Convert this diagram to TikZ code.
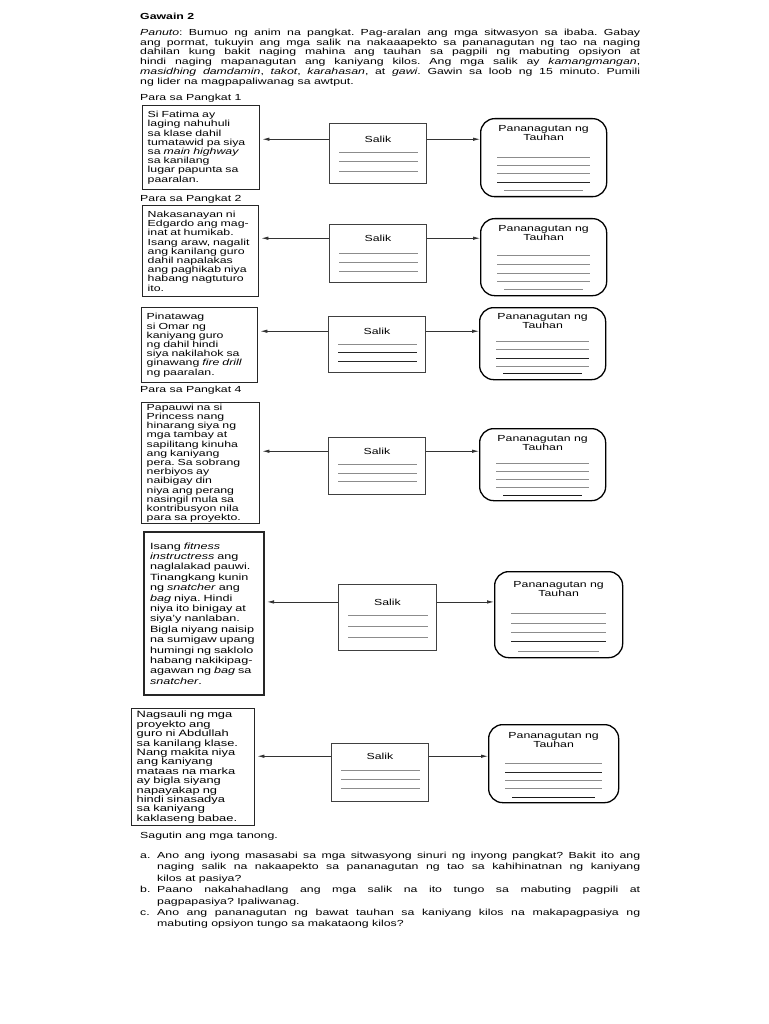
\documentclass[tikz,border=0pt]{standalone}
\usepackage{fontspec}
\setmainfont{Liberation Sans}[FakeStretch=1.4]
\usetikzlibrary{arrows.meta,positioning}
\frenchspacing

\newcommand{\introfont}{\fontsize{8.8}{9.7}\selectfont}
\newcommand{\askfont}{\fontsize{8.8}{11.4}\selectfont}
\newcommand{\casefont}{\fontsize{8.8}{9.2}\selectfont}
\newcommand{\bigcasefont}{\fontsize{9.0}{10.4}\selectfont}
\newcommand{\lastcasefont}{\fontsize{9.2}{9.4}\selectfont}

\begin{document}
\begin{tikzpicture}[x=1pt, y=-1pt,
  every node/.style={inner sep=0pt},
  kaso/.style={draw=black!85, line width=1.4pt, anchor=north west, align=left, inner xsep=5pt, font=\casefont},
  salik/.style={draw=black!75, line width=0.9pt, anchor=north west},
  tauhan/.style={draw=black, line width=1.3pt, rounded corners=14pt, anchor=north west},
  heading/.style={align=center, font=\casefont},
  para/.style={anchor=west, font=\introfont},
  rule/.style={line width=0.8pt},
  arr/.style={-{Latex[length=7pt,width=3.5pt]}, draw=black!80, line width=0.8pt}]
  \useasboundingbox (0,0) rectangle (768,1024);
  \fill[white] (0,0) rectangle (768,1024);

  % Panuto
  \node[anchor=west, font=\bfseries\fontsize{8.8}{10}\selectfont] (gawain) at (140,16) {Gawain 2};
  \node[anchor=north west, text width=500pt, align=justify, font=\introfont] (panuto) at (140,29) {\noindent\textit{Panuto}: Bumuo ng anim na pangkat. Pag-aralan ang mga sitwasyon sa ibaba. Gabay\linebreak ang pormat, tukuyin ang mga salik na nakaaapekto sa pananagutan ng tao na naging\linebreak dahilan kung bakit naging mahina ang tauhan sa pagpili ng mabuting opsiyon at\linebreak hindi naging mapanagutan ang kaniyang kilos. Ang mga salik ay \textit{kamangmangan},\linebreak \textit{masidhing damdamin}, \textit{takot}, \textit{karahasan}, at \textit{gawi}. Gawin sa loob ng 15 minuto. Pumili\linebreak ng lider na magpapaliwanag sa awtput.};

  % Pangkat 1
  \node[para] (para1) at (140,98) {Para sa Pangkat 1};
  \node[kaso, text width=107pt, minimum height=84pt] (kaso1) at (142,105) {Si Fatima ay\\laging nahuhuli\\sa klase dahil\\tumatawid pa siya\\sa \textit{main highway}\\sa kanilang\\lugar papunta sa\\paaralan.};
  \node[salik, minimum width=97pt, minimum height=60pt] (salik1) at (329,123) {};
  \node[heading, below=12.8pt of salik1.north] (sl1) {Salik};
  \node[tauhan, minimum width=126pt, minimum height=78pt] (tauhan1) at (480,118) {};
  \node[heading, below=7.5pt of tauhan1.north] (tl1) {Pananagutan ng\\Tauhan};
  \foreach \dy/\tone in {29/45,38/45,48/45}
    \draw[rule, black!\tone] ([xshift=10pt,yshift=-\dy pt]salik1.north west) -- ([xshift=-9pt,yshift=-\dy pt]salik1.north east);
  \foreach \dy/\ins/\tone in {39/17/45,47/17/45,55/17/45,64/17/85,72/24/45}
    \draw[rule, black!\tone] ([xshift=\ins pt,yshift=-\dy pt]tauhan1.north west) -- ([xshift=-\ins pt,yshift=-\dy pt]tauhan1.north east);

  % Pangkat 2
  \node[para] (para2) at (140,199) {Para sa Pangkat 2};
  \node[kaso, text width=106pt, minimum height=91pt] (kaso2) at (142,205) {Nakasanayan ni\\Edgardo ang mag-\\inat at humikab.\\Isang araw, nagalit\\ang kanilang guro\\dahil napalakas\\ang paghikab niya\\habang nagtuturo\\ito.};
  \node[salik, minimum width=97pt, minimum height=58pt] (salik2) at (329,224) {};
  \node[heading, below=10.8pt of salik2.north] (sl2) {Salik};
  \node[tauhan, minimum width=126pt, minimum height=77pt] (tauhan2) at (480,218) {};
  \node[heading, below=7.5pt of tauhan2.north] (tl2) {Pananagutan ng\\Tauhan};
  \foreach \dy/\tone in {29/45,38/45,47/45}
    \draw[rule, black!\tone] ([xshift=10pt,yshift=-\dy pt]salik2.north west) -- ([xshift=-9pt,yshift=-\dy pt]salik2.north east);
  \foreach \dy/\ins/\tone in {37/17/45,46/17/45,55/17/45,63/17/45,71/24/45}
    \draw[rule, black!\tone] ([xshift=\ins pt,yshift=-\dy pt]tauhan2.north west) -- ([xshift=-\ins pt,yshift=-\dy pt]tauhan2.north east);

  % Pangkat 3
  \node[kaso, text width=106pt, minimum height=75pt] (kaso3) at (141,307) {Pinatawag\\si Omar ng\\kaniyang guro\\ng dahil hindi\\siya nakilahok sa\\ginawang \textit{fire drill}\\ng paaralan.};
  \node[salik, minimum width=97pt, minimum height=56pt] (salik3) at (328,316) {};
  \node[heading, below=11.8pt of salik3.north] (sl3) {Salik};
  \node[tauhan, minimum width=126pt, minimum height=72pt] (tauhan3) at (479,307) {};
  \node[heading, below=5.8pt of tauhan3.north] (tl3) {Pananagutan ng\\Tauhan};
  \foreach \dy/\tone in {28/45,36/85,45/85}
    \draw[rule, black!\tone] ([xshift=10pt,yshift=-\dy pt]salik3.north west) -- ([xshift=-9pt,yshift=-\dy pt]salik3.north east);
  \foreach \dy/\ins/\tone in {34/17/45,42/17/45,51/17/85,59/17/45,66/24/90}
    \draw[rule, black!\tone] ([xshift=\ins pt,yshift=-\dy pt]tauhan3.north west) -- ([xshift=-\ins pt,yshift=-\dy pt]tauhan3.north east);

  % Pangkat 4
  \node[para] (para4) at (140,390) {Para sa Pangkat 4};
  \node[kaso, text width=108pt, minimum height=121pt] (kaso4) at (141,402) {Papauwi na si\\Princess nang\\hinarang siya ng\\mga tambay at\\sapilitang kinuha\\ang kaniyang\\pera. Sa sobrang\\nerbiyos ay\\naibigay din\\niya ang perang\\nasingil mula sa\\kontribusyon nila\\para sa proyekto.};
  \node[salik, minimum width=97pt, minimum height=57pt] (salik4) at (328,437) {};
  \node[heading, below=10.8pt of salik4.north] (sl4) {Salik};
  \node[tauhan, minimum width=126pt, minimum height=72pt] (tauhan4) at (479,428) {};
  \node[heading, below=6.8pt of tauhan4.north] (tl4) {Pananagutan ng\\Tauhan};
  \foreach \dy/\tone in {27/45,36/45,44/45}
    \draw[rule, black!\tone] ([xshift=10pt,yshift=-\dy pt]salik4.north west) -- ([xshift=-9pt,yshift=-\dy pt]salik4.north east);
  \foreach \dy/\ins/\tone in {35/17/45,43/17/45,51/17/45,59/17/45,67/24/90}
    \draw[rule, black!\tone] ([xshift=\ins pt,yshift=-\dy pt]tauhan4.north west) -- ([xshift=-\ins pt,yshift=-\dy pt]tauhan4.north east);

  % Pangkat 5
  \node[kaso, line width=2pt, inner xsep=6pt, font=\bigcasefont, text width=108pt, minimum height=163pt] (kaso5) at (143,531) {Isang \textit{fitness}\\\textit{instructress} ang\\naglalakad pauwi.\\Tinangkang kunin\\ng \textit{snatcher} ang\\\textit{bag} niya. Hindi\\niya ito binigay at\\siya'y nanlaban.\\Bigla niyang naisip\\na sumigaw upang\\humingi ng saklolo\\habang nakikipag-\\agawan ng \textit{bag} sa\\\textit{snatcher}.};
  \node[salik, minimum width=98pt, minimum height=66pt] (salik5) at (338,584) {};
  \node[heading, below=14.5pt of salik5.north] (sl5) {Salik};
  \node[tauhan, minimum width=128pt, minimum height=86pt] (tauhan5) at (494,571) {};
  \node[heading, below=9.8pt of tauhan5.north] (tl5) {Pananagutan ng\\Tauhan};
  \foreach \dy/\tone in {31/45,42/45,53/45}
    \draw[rule, black!\tone] ([xshift=10pt,yshift=-\dy pt]salik5.north west) -- ([xshift=-9pt,yshift=-\dy pt]salik5.north east);
  \foreach \dy/\ins/\tone in {42/17/45,52/17/45,61/17/45,70/17/85,80/24/45}
    \draw[rule, black!\tone] ([xshift=\ins pt,yshift=-\dy pt]tauhan5.north west) -- ([xshift=-\ins pt,yshift=-\dy pt]tauhan5.north east);

  % Pangkat 6
  \node[kaso, font=\lastcasefont, text width=113pt, minimum height=117pt] (kaso6) at (131,708) {Nagsauli ng mga\\proyekto ang\\guro ni Abdullah\\sa kanilang klase.\\Nang makita niya\\ang kaniyang\\mataas na marka\\ay bigla siyang\\napayakap ng\\hindi sinasadya\\sa kaniyang\\kaklaseng babae.};
  \node[salik, minimum width=97pt, minimum height=58pt] (salik6) at (331,743) {};
  \node[heading, below=9.8pt of salik6.north] (sl6) {Salik};
  \node[tauhan, minimum width=130pt, minimum height=78pt] (tauhan6) at (488,724) {};
  \node[heading, below=7.8pt of tauhan6.north] (tl6) {Pananagutan ng\\Tauhan};
  \foreach \dy/\tone in {27/45,36/45,45/45}
    \draw[rule, black!\tone] ([xshift=10pt,yshift=-\dy pt]salik6.north west) -- ([xshift=-9pt,yshift=-\dy pt]salik6.north east);
  \foreach \dy/\ins/\tone in {39/17/45,48/17/85,56/17/45,64/17/45,73/24/90}
    \draw[rule, black!\tone] ([xshift=\ins pt,yshift=-\dy pt]tauhan6.north west) -- ([xshift=-\ins pt,yshift=-\dy pt]tauhan6.north east);

  % Arrows
  \foreach \i in {1,...,6} {
    \draw[arr, shorten >=2pt] (sl\i -| salik\i.west) -- (sl\i -| kaso\i.east);
    \draw[arr] (sl\i -| salik\i.east) -- (sl\i -| tauhan\i.west);
  }

  % Tanong
  \node[para] (sagutin) at (140,836) {Sagutin ang mga tanong.};
  \node[anchor=north west, text width=500pt, align=justify, font=\askfont] (tanong) at (140,852) {\noindent\hangindent=17pt\hangafter=1\makebox[17pt][l]{a.}Ano ang iyong masasabi sa mga sitwasyong sinuri ng inyong pangkat? Bakit ito ang\linebreak naging salik na nakaapekto sa pananagutan ng tao sa kahihinatnan ng kaniyang\linebreak kilos at pasiya?\par
  \noindent\hangindent=17pt\hangafter=1\makebox[17pt][l]{b.}Paano nakahahadlang ang mga salik na ito tungo sa mabuting pagpili at\linebreak pagpapasiya? Ipaliwanag.\par
  \noindent\hangindent=17pt\hangafter=1\makebox[17pt][l]{c.}Ano ang pananagutan ng bawat tauhan sa kaniyang kilos na makapagpasiya ng\linebreak mabuting opsiyon tungo sa makataong kilos?\par};
\end{tikzpicture}
\end{document}
